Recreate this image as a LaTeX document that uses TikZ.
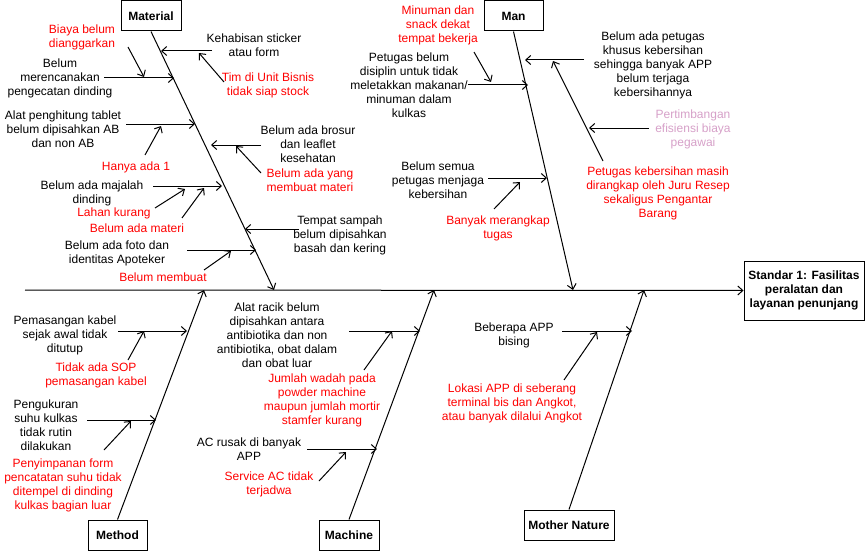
\documentclass[tikz,border=0pt]{standalone}
\usepackage{fontspec}
\setmainfont{Liberation Sans}
\usetikzlibrary{arrows.meta}
\definecolor{causered}{RGB}{255,0,0}
\definecolor{causepink}{RGB}{214,160,200}
\begin{document}
\begin{tikzpicture}[x=1pt,y=-1pt,line width=1pt,
    font=\fontsize{12}{14}\selectfont,
    >={Straight Barb[length=5pt,width=9pt]},
    catbox/.style={draw,inner sep=0pt,minimum height=30pt,font=\fontsize{12}{14}\selectfont\bfseries},
    cause/.style={align=center,inner sep=0pt},
    subcause/.style={cause,text=causered}]
    \useasboundingbox (0,0) rectangle (865,551);
    % categories and effect
    \node[catbox,minimum width=60pt] (material) at (151,16) {Material};
    \node[catbox,minimum width=59pt] (man) at (513.5,16) {Man};
    \node[catbox,minimum width=59pt] (method) at (117.5,535) {Method};
    \node[catbox,minimum width=60pt] (machine) at (349,535) {Machine};
    \node[catbox,minimum width=90pt] (nature) at (569,525) {Mother Nature};
    \node[catbox,minimum width=120pt,minimum height=59pt,align=center] (effect) at (804,290.5)
        {Standar 1: Fasilitas\\peralatan dan\\layanan penunjang};
    % spine and bones
    \coordinate (tail) at (25,290);
    \coordinate (materialhead) at (274,290);
    \coordinate (manhead) at (573,290);
    \coordinate (methodhead) at (204,290);
    \coordinate (machinehead) at (434,290);
    \coordinate (naturehead) at (644,290);
    \draw[->] (tail) -- (effect.west);
    \draw[->] (material.south) -- (materialhead);
    \draw[->] (man.south) -- (manhead);
    \draw[->] (method.north) -- (methodhead);
    \draw[->] (machine.north) -- (machinehead);
    \draw[->] (nature.north) -- (naturehead);

    % Material
    \node[cause] (mat1) at (254,45) {Kehabisan sticker\\atau form};
    \node[subcause] (mat1r) at (268,85) {Tim di Unit Bisnis\\tidak siap stock};
    \node[subcause] (mat2r) at (82,37) {Biaya belum\\dianggarkan};
    \node[cause] (mat2) at (60,78) {Belum\\merencanakan\\pengecatan dinding};
    \node[cause] (mat3) at (63,129) {Alat penghitung tablet\\belum dipisahkan AB\\dan non AB};
    \node[subcause] (mat3r) at (136,167) {Hanya ada 1};
    \node[cause] (mat4) at (308,144) {Belum ada brosur\\dan leaflet\\kesehatan};
    \node[subcause] (mat4r) at (310,180) {Belum ada yang\\membuat materi};
    \node[cause] (mat5) at (92,193.5) {Belum ada majalah\\dinding};
    \node[subcause] (mat5r) at (114,213) {Lahan kurang};
    \node[subcause] (mat5s) at (137,228) {Belum ada materi};
    \node[cause] (mat6) at (340,235) {Tempat sampah\\belum dipisahkan\\basah dan kering};
    \node[cause] (mat7) at (117,253.5) {Belum ada foto dan\\identitas Apoteker};
    \node[subcause] (mat7r) at (163,277) {Belum membuat};
    \coordinate (mat1s) at (212,51);  \coordinate (mat1e) at (161,51);
    \coordinate (mat1rs) at (224,82); \coordinate (mat1re) at (199,53);
    \coordinate (mat2s) at (104,78);  \coordinate (mat2e) at (174,78);
    \coordinate (mat2rs) at (128,47); \coordinate (mat2re) at (144,77);
    \coordinate (mat3s) at (126,124); \coordinate (mat3e) at (195,124);
    \coordinate (mat3rs) at (145,155); \coordinate (mat3re) at (161,126);
    \coordinate (mat4s) at (261,145); \coordinate (mat4e) at (211,145);
    \coordinate (mat4rs) at (261,173); \coordinate (mat4re) at (236,146);
    \coordinate (mat5s) at (153,186); \coordinate (mat5e) at (222,186);
    \coordinate (mat5rs) at (155,208); \coordinate (mat5re) at (185,189);
    \coordinate (mat5ss) at (182,218); \coordinate (mat5se) at (204,188);
    \coordinate (mat6s) at (299,229); \coordinate (mat6e) at (245,229);
    \coordinate (mat7s) at (187,250); \coordinate (mat7e) at (256,250);
    \coordinate (mat7rs) at (204,270); \coordinate (mat7re) at (231,251);
    \foreach \c in {mat1,mat1r,mat2,mat2r,mat3,mat3r,mat4,mat4r,mat5,mat5r,mat5s,mat6,mat7,mat7r}
        \draw[->] (\c s) -- (\c e);

    % Man
    \node[subcause] (man1r) at (438,25) {Minuman dan\\snack dekat\\tempat bekerja};
    \node[cause] (man1) at (409,85.5) {Petugas belum\\disiplin untuk tidak\\meletakkan makanan/\\minuman dalam\\kulkas};
    \node[cause] (man2) at (653,65.5) {Belum ada petugas\\khusus kebersihan\\sehingga banyak APP\\belum terjaga\\kebersihannya};
    \node[subcause] (man2r) at (658,193.5) {Petugas kebersihan masih\\dirangkap oleh Juru Resep\\sekaligus Pengantar\\Barang};
    \node[cause,text=causepink] (man2p) at (693,129.5) {Pertimbangan\\efisiensi biaya\\pegawai};
    \node[cause] (man3) at (438,180) {Belum semua\\petugas menjaga\\kebersihan};
    \node[subcause] (man3r) at (498,228.5) {Banyak merangkap\\tugas};
    \coordinate (man1rs) at (474,52); \coordinate (man1re) at (491,82);
    \coordinate (man1s) at (468,85);  \coordinate (man1e) at (528,85);
    \coordinate (man2s) at (584,60);  \coordinate (man2e) at (525,60);
    \coordinate (man2rs) at (603,161); \coordinate (man2re) at (553,61);
    \coordinate (man2ps) at (649,128); \coordinate (man2pe) at (589,128);
    \coordinate (man3s) at (488,178); \coordinate (man3e) at (547,178);
    \coordinate (man3rs) at (494,209); \coordinate (man3re) at (520,182);
    \foreach \c in {man1,man1r,man2,man2r,man2p,man3,man3r}
        \draw[->] (\c s) -- (\c e);

    % Method
    \node[cause] (met1) at (65,335.5) {Pemasangan kabel\\sejak awal tidak\\ditutup};
    \node[subcause] (met1r) at (96,375.5) {Tidak ada SOP\\pemasangan kabel};
    \node[cause] (met2) at (46,425) {Pengukuran\\suhu kulkas\\tidak rutin\\dilakukan};
    \node[subcause] (met2r) at (63,485) {Penyimpanan form\\pencatatan suhu tidak\\ditempel di dinding\\kulkas bagian luar};
    \coordinate (met1s) at (118,331); \coordinate (met1e) at (187,331);
    \coordinate (met1rs) at (128,360); \coordinate (met1re) at (144,331);
    \coordinate (met2s) at (87,420);  \coordinate (met2e) at (156,420);
    \coordinate (met2rs) at (104,450); \coordinate (met2re) at (131,421);
    \foreach \c in {met1,met1r,met2,met2r}
        \draw[->] (\c s) -- (\c e);

    % Machine
    \node[cause] (mac1) at (277,335.5) {Alat racik belum\\dipisahkan antara\\antibiotika dan non\\antibiotika, obat dalam\\dan obat luar};
    \node[subcause] (mac1r) at (322,400) {Jumlah wadah pada\\powder machine\\maupun jumlah mortir\\stamfer kurang};
    \node[cause] (mac2) at (249,449.5) {AC rusak di banyak\\APP};
    \node[subcause] (mac2r) at (269,484.5) {Service AC tidak\\terjadwa};
    \coordinate (mac1s) at (349,331); \coordinate (mac1e) at (420,331);
    \coordinate (mac1rs) at (364,370); \coordinate (mac1re) at (392,331);
    \coordinate (mac2s) at (307,449); \coordinate (mac2e) at (377,449);
    \coordinate (mac2rs) at (319,481); \coordinate (mac2re) at (346,452);
    \foreach \c in {mac1,mac1r,mac2,mac2r}
        \draw[->] (\c s) -- (\c e);

    % Mother Nature
    \node[cause] (nat1) at (514,335.5) {Beberapa APP\\bising};
    \node[subcause] (nat1r) at (512,403.5) {Lokasi APP di seberang\\terminal bis dan Angkot,\\atau banyak dilalui Angkot};
    \coordinate (nat1s) at (562,331); \coordinate (nat1e) at (632,331);
    \coordinate (nat1rs) at (564,380); \coordinate (nat1re) at (597,332);
    \foreach \c in {nat1,nat1r}
        \draw[->] (\c s) -- (\c e);
\end{tikzpicture}
\end{document}
